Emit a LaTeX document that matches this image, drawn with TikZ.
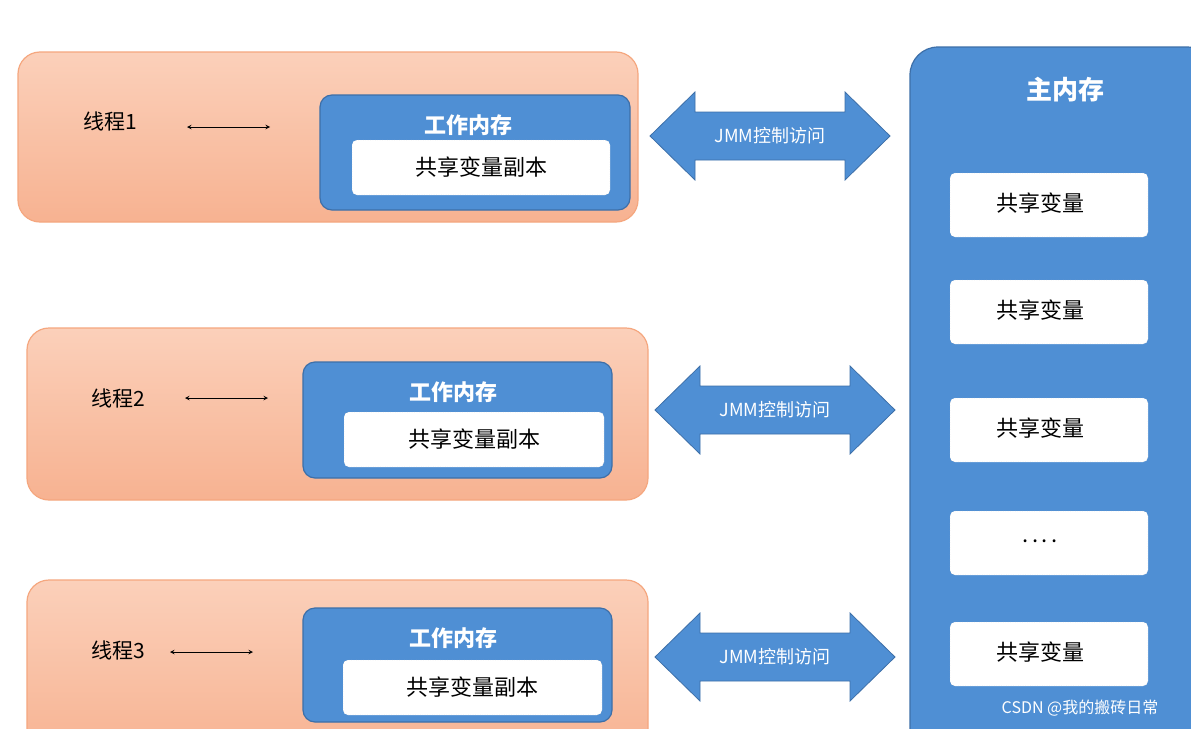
\documentclass[tikz,border=0pt]{standalone}
\usepackage{fontspec}
\setmainfont{Noto Sans CJK SC}
\usetikzlibrary{shapes.arrows}
\definecolor{org}{HTML}{F7B291}
\definecolor{orgl}{HTML}{FBD0BA}
\definecolor{orgb}{HTML}{F5A77F}
\definecolor{blu}{HTML}{4F8FD4}
\definecolor{blub}{HTML}{3D6FA8}
\begin{document}
\begin{tikzpicture}[x=1pt,y=-1pt,
  thread/.style={draw=orgb,line width=1.2pt,rounded corners=22pt,top color=orgl,bottom color=org},
  work/.style={draw=blub,fill=blu,line width=1.2pt,rounded corners=12pt},
  copyb/.style={draw=gray!60,dotted,fill=white,rounded corners=5pt},
  wt/.style={text=white,font=\bfseries\fontsize{22}{24}\selectfont},
  bt/.style={text=black,font=\fontsize{22}{24}\selectfont},
  lbl/.style={font=\fontsize{21}{24}\selectfont},
  sarr/.style={<->,line width=1pt,>=stealth},
  jmm/.style={fill=blu,draw=blub,line width=0.8pt},
  jt/.style={text=white,font=\fontsize{18}{20}\selectfont}]
\useasboundingbox (0,0) rectangle (1191,728);
\fill[white] (0,0) rectangle (1191,728);
% threads
\draw[thread] (18,52) rectangle (638,222);
\draw[thread] (27,328) rectangle (648,500);
\draw[thread] (27,580) rectangle (648,760);
% work memories
\foreach \n/\xa/\ya/\xb/\yb/\cx/\cy/\wx/\wy/\wxx/\wyy in {
  1/320/95/630/210/468/125/352/140/610/195,
  2/303/362/612/478/453/392/344/412/604/467,
  3/303/608/612/722/453/638/343/660/602/715}{
  \draw[work] (\xa,\ya) rectangle (\xb,\yb);
  \node[wt] (wm\n) at (\cx,\cy) {工作内存};
  \draw[copyb] (\wx,\wy) rectangle (\wxx,\wyy);
  \node[bt] (cp\n) at ({(\wx+\wxx)/2},{(\wy+\wyy)/2}) {共享变量副本};
}
% thread labels and arrows
\node[lbl] (t1) at (110,121) {线程1};
\coordinate (a1l) at (187,127); \coordinate (a1r) at (270,127);
\draw[sarr] (a1l) -- (a1r);
\node[lbl] (t2) at (118,398) {线程2};
\coordinate (a2l) at (185,398); \coordinate (a2r) at (268,398);
\draw[sarr] (a2l) -- (a2r);
\node[lbl] (t3) at (118,650) {线程3};
\coordinate (a3l) at (170,652); \coordinate (a3r) at (253,652);
\draw[sarr] (a3l) -- (a3r);
% JMM arrows
\foreach \n/\xl/\xr/\yc in {1/650/890/136,2/655/895/410,3/655/895/657}{
  \draw[jmm] (\xl,\yc) -- (\xl+45,\yc-44) -- (\xl+45,\yc-24) -- (\xr-45,\yc-24) -- (\xr-45,\yc-44)
    -- (\xr,\yc) -- (\xr-45,\yc+44) -- (\xr-45,\yc+24) -- (\xl+45,\yc+24) -- (\xl+45,\yc+44) -- cycle;
  \node[jt] (j\n) at ({(\xl+\xr)/2},\yc) {JMM控制访问};
}
% main memory
\draw[work,rounded corners=28pt] (910,47) rectangle (1215,780);
\node[wt,font=\bfseries\fontsize{26}{28}\selectfont] (mm) at (1065,90) {主内存};
\foreach \n/\ya/\t in {1/173/共享变量,2/280/共享变量,3/398/共享变量,4/511/{.\,.\,.\,.},5/622/共享变量}{
  \draw[copyb] (950,\ya) rectangle (1148,\ya+64);
  \node[bt] (s\n) at (1040,\ya+30) {\t};
}
\node[text=white,font=\fontsize{16}{18}\selectfont] (wm) at (1080,708) {CSDN @我的搬砖日常};
\end{tikzpicture}
\end{document}
